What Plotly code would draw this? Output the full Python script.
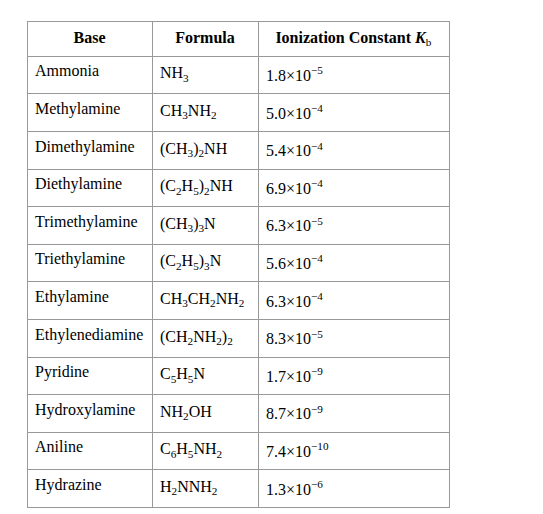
import plotly.graph_objects as go

bases = ["Ammonia", "Methylamine", "Dimethylamine", "Diethylamine", "Trimethylamine",
         "Triethylamine", "Ethylamine", "Ethylenediamine", "Pyridine", "Hydroxylamine",
         "Aniline", "Hydrazine"]
formulas = ["NH<sub>3</sub>", "CH<sub>3</sub>NH<sub>2</sub>", "(CH<sub>3</sub>)<sub>2</sub>NH",
            "(C<sub>2</sub>H<sub>5</sub>)<sub>2</sub>NH", "(CH<sub>3</sub>)<sub>3</sub>N",
            "(C<sub>2</sub>H<sub>5</sub>)<sub>3</sub>N", "CH<sub>3</sub>CH<sub>2</sub>NH<sub>2</sub>",
            "(CH<sub>2</sub>NH<sub>2</sub>)<sub>2</sub>", "C<sub>5</sub>H<sub>5</sub>N",
            "NH<sub>2</sub>OH", "C<sub>6</sub>H<sub>5</sub>NH<sub>2</sub>", "H<sub>2</sub>NNH<sub>2</sub>"]
kb = ["1.8×10<sup>−5</sup>", "5.0×10<sup>−4</sup>", "5.4×10<sup>−4</sup>", "6.9×10<sup>−4</sup>",
      "6.3×10<sup>−5</sup>", "5.6×10<sup>−4</sup>", "6.3×10<sup>−4</sup>", "8.3×10<sup>−5</sup>",
      "1.7×10<sup>−9</sup>", "8.7×10<sup>−9</sup>", "7.4×10<sup>−10</sup>", "1.3×10<sup>−6</sup>"]
headers = ["<b>Base</b>", "<b>Formula</b>", "<b>Ionization Constant <i>K</i></b><sub>b</sub>"]

font = dict(family="Liberation Serif", size=16, color="black")
fig = go.Figure(go.Table(
    columnwidth=[125, 106, 191],
    header=dict(values=headers, align="center", height=35, font=font,
                fill_color="white", line_color="#999999"),
    cells=dict(values=[bases, formulas, kb], align="left", height=37.6, font=font,
               fill_color="white", line_color="#999999"),
    domain=dict(x=[19/543, 441/543], y=[0, 1 - 13/514]),
))
fig.update_layout(width=543, height=514, margin=dict(l=0, r=0, t=0, b=0),
                  paper_bgcolor="white")
fig.write_html("out.html")
